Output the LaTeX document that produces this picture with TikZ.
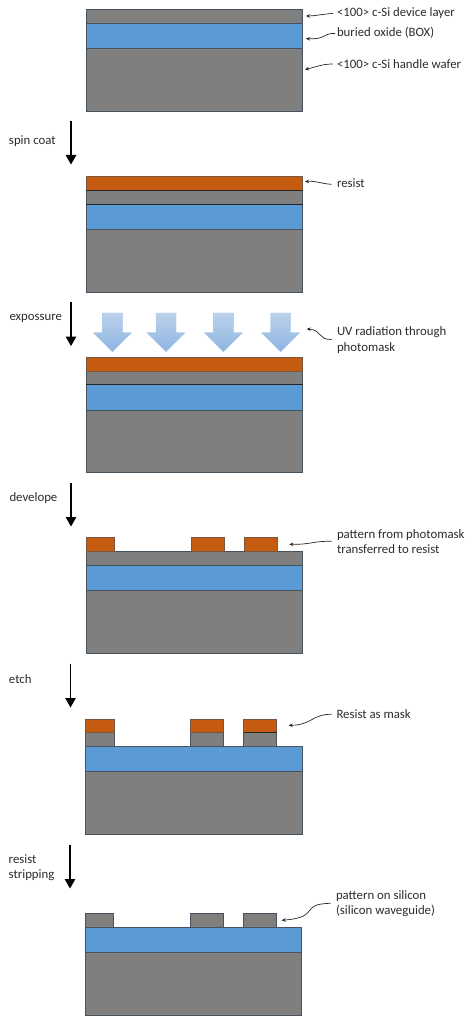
\documentclass[tikz,border=0pt]{standalone}
\usepackage{fontspec}
\setmainfont{Carlito}
\usetikzlibrary{arrows.meta}
\definecolor{sigray}{HTML}{7F7F7F}
\definecolor{boxblue}{HTML}{5B9BD5}
\definecolor{resistor}{HTML}{C55A11}
\definecolor{edgec}{HTML}{46535F}
\definecolor{txt}{HTML}{2B2B2B}
\definecolor{uvtop}{HTML}{BDD2EB}
\definecolor{uvbot}{HTML}{8DB4E2}
\tikzset{
  si/.style={fill=sigray,draw=edgec,line width=.6pt},
  oxide/.style={fill=boxblue,draw=edgec,line width=.6pt},
  res/.style={fill=resistor,draw=edgec!60!resistor,line width=.6pt},
  joint/.style={draw=black!85,line width=.8pt},
  uv/.style={top color=uvtop,bottom color=uvbot,draw=uvbot!85!white,line width=.4pt},
  lbl/.style={anchor=west,inner sep=0pt,outer sep=0pt,align=left,text=txt,
     font=\fontsize{12.8}{15.4}\selectfont},
  proc/.style={-{Triangle[width=10.5pt,length=9.5pt]},line width=1.2pt,black},
  call/.style={-{Stealth[width=3.6pt,length=4pt]},line width=.7pt,black!85},
}
\begin{document}
\begin{tikzpicture}[x=1pt,y=-1pt]
\useasboundingbox (0,0) rectangle (474,1016);
% stack 1
\draw[si] (86,9.5) rectangle (302.5,23);
\draw[si] (86,48) rectangle (302.5,111);
\draw[oxide] (86,23) rectangle (302.5,48);
% stack 2
\draw[si] (86,190) rectangle (302.5,204);
\draw[si] (86,229) rectangle (302.5,292);
\draw[oxide] (86,204) rectangle (302.5,229);
\draw[res] (86,176.5) rectangle (302.5,190);
\draw[joint] (86,190) -- (302.5,190);
\draw[joint] (86,204) -- (302.5,204);
% UV arrows
\foreach \c in {112.3,166,223.3,280.7}{
  \draw[uv] (\c-10,313) -- (\c+10,313) -- (\c+10,332.7) -- (\c+19,332.7) -- (\c,351.7) -- (\c-19,332.7) -- (\c-10,332.7) -- cycle;
}
% stack 3
\draw[si] (86,371) rectangle (302.5,384.5);
\draw[si] (86,410) rectangle (302.5,472.7);
\draw[oxide] (86,384.5) rectangle (302.5,410);
\draw[res] (86,357) rectangle (302.5,371);
\draw[joint] (86,384.5) -- (302.5,384.5);
% stack 4
\draw[si] (86,551.7) rectangle (302.5,565.3);
\draw[si] (86,590.3) rectangle (302.5,653.7);
\draw[oxide] (86,565.3) rectangle (302.5,590.3);
\draw[res] (86,537.7) rectangle (114.5,551.7);
\draw[res] (191,537.7) rectangle (224,551.7);
\draw[res] (244,537.7) rectangle (277,551.7);
% stack 5
\draw[si] (85.7,771) rectangle (302,834.3);
\draw[oxide] (85.7,746.3) rectangle (302,771);
\foreach \a/\b in {85.7/114,190.5/223.5,243.5/276.5}{
  \draw[si] (\a,732.3) rectangle (\b,746.3);
  \draw[res] (\a,719) rectangle (\b,732.3);
}
\draw[joint] (243.5,732.3) -- (276.5,732.3);
% stack 6
\draw[si] (85,952.3) rectangle (301.7,1015.7);
\draw[oxide] (85,927.3) rectangle (301.7,952.3);
\foreach \a/\b in {85/113.7,190/223,243/276}{
  \draw[si] (\a,913.7) rectangle (\b,927.3);
}
% process labels and arrows
\node[lbl] (spin) at (9,141) {spin coat};
\node[lbl] (expo) at (9.5,318) {expossure};
\node[lbl] (dev) at (9.5,498.3) {develope};
\node[lbl] (etch) at (9,679) {etch};
\node[lbl] (strip) at (8.7,867.8) {resist\\stripping};
\coordinate (a1s) at (71,121); \coordinate (a1e) at (71,164.5);
\coordinate (a2s) at (71,302); \coordinate (a2e) at (71,346);
\coordinate (a3s) at (71,483); \coordinate (a3e) at (71,526.5);
\coordinate (a4s) at (70.5,663.7); \coordinate (a4e) at (70.5,707.5);
\coordinate (a5s) at (70,844.7); \coordinate (a5e) at (70,888.5);
\draw[proc] (a1s) -- (a1e);
\draw[proc] (a2s) -- (a2e);
\draw[proc] (a3s) -- (a3e);
\draw[proc] (a4s) -- (a4e);
\draw[proc] (a5s) -- (a5e);
% annotations
\node[lbl] (t1) at (337,12.7) {<100> c-Si device layer};
\node[lbl] (t2) at (337,33.2) {buried oxide (BOX)};
\node[lbl] (t3) at (337,64.2) {<100> c-Si handle wafer};
\node[lbl] (t4) at (337,183.2) {resist};
\node[lbl] (t5) at (337,340) {UV radiation through\\photomask};
\node[lbl] (t6) at (337,541.5) {pattern from photomask\\transferred to resist};
\node[lbl] (t7) at (336.5,714.5) {Resist as mask};
\node[lbl] (t8) at (336,903.7) {pattern on silicon\\(silicon waveguide)};
\coordinate (p1) at (306,16);
\coordinate (p2) at (306,38.7);
\coordinate (p3) at (305,69.5);
\coordinate (p4) at (305,181.7);
\coordinate (p5) at (306.7,329);
\coordinate (p6) at (289.3,544.3);
\coordinate (p7) at (288.7,725.3);
\coordinate (p8) at (281.7,920.3);
\coordinate (q1) at (333,13.5);
\coordinate (q2) at (335,33.5);
\coordinate (q3) at (333,64);
\coordinate (q4) at (331.7,184.3);
\coordinate (q5) at (331.7,339.5);
\coordinate (q6) at (331.7,541.3);
\coordinate (q7) at (331.7,714.3);
\coordinate (q8) at (330.7,903.3);
\draw[call] (q1) .. controls (322,14) and (316,16) .. (p1);
\draw[call] (q2) .. controls (322,33) and (327,39.5) .. (p2);
\draw[call] (q3) .. controls (322,64) and (316,67) .. (p3);
\draw[call] (q4) .. controls (322,184) and (316,180.5) .. (p4);
\draw[call] (q5) .. controls (318,340) and (322,330) .. (p5);
\draw[call] (q6) .. controls (312,541) and (312,544.5) .. (p6);
\draw[call] (q7) .. controls (312,714) and (312,725) .. (p7);
\draw[call] (q8) .. controls (298,904) and (322,917) .. (p8);
\end{tikzpicture}
\end{document}
